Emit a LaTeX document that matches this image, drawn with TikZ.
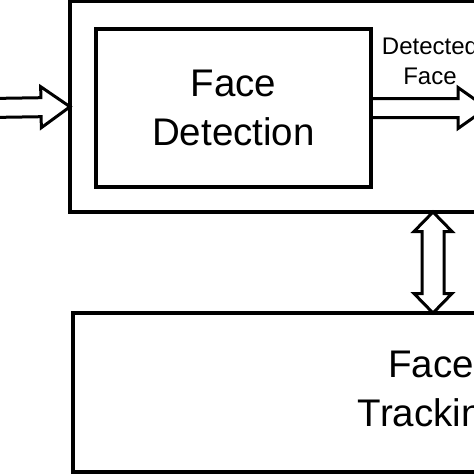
\documentclass[tikz,border=0pt]{standalone}
\usepackage{fontspec}
\setmainfont{Liberation Sans}
\usepackage{tikz}
\usetikzlibrary{calc,positioning}
\tikzset{
	block/.style={draw, line width=3.5pt, inner sep=0pt, outer sep=0pt},
	biglabel/.style={font=\fontsize{38.5}{49}\selectfont, align=center},
	smalllabel/.style={font=\fontsize{24}{30}\selectfont, align=center},
	hollow/.style={draw, line width=3pt, miter limit=20}
}
% open block arrow from (#1) to tip (#2): shaft half width, head half width, head length
\def\hollowarrow(#1)(#2)#3#4#5{\path ($(#2)!#5!(#1)$) coordinate (hb);
	\draw[hollow] ($(#1)!#3!90:(#2)$) -- ($(hb)!#3!90:(#2)$) -- ($(hb)!#4!90:(#2)$) -- (#2) -- ($(hb)!#4!-90:(#2)$) -- ($(hb)!#3!-90:(#2)$) -- ($(#1)!#3!-90:(#2)$);}
% open block arrow with a head at both ends
\def\hollowdouble(#1)(#2)#3#4#5{\path ($(#1)!#5!(#2)$) coordinate (ha) ($(#2)!#5!(#1)$) coordinate (hb);
	\draw[hollow] (#1) -- ($(ha)!#4!-90:(#1)$) -- ($(ha)!#3!-90:(#1)$) -- ($(hb)!#3!90:(#2)$) -- ($(hb)!#4!90:(#2)$) -- (#2) -- ($(hb)!#4!-90:(#2)$) -- ($(hb)!#3!-90:(#2)$) -- ($(ha)!#3!90:(#1)$) -- ($(ha)!#4!90:(#1)$) -- cycle;}
\begin{document}
\begin{tikzpicture}[x=1pt, y=-1pt]
			%%%%% START %%%%%
			\useasboundingbox (0,0) rectangle (474,474);
			\clip (0,0) rectangle (474,474);
			
			\node[block, anchor=north west, minimum width=460pt, minimum height=210.5pt] (outer) at (70,1.5) {};
			\node[block, biglabel, anchor=north west, minimum width=275pt, minimum height=158pt] (detect) at (96,29) {Face\\Detection};
			\node[block, biglabel, anchor=north west, minimum width=716pt, minimum height=159pt] (track) at (73,313) {Face\\Tracking};
			
			\coordinate (input) at (-10,108);
			\coordinate (output) at (487,108);
			\coordinate (link) at (433,0);
			
			\hollowarrow(input)(outer.west){9.5pt}{20.5pt}{29pt}
			\hollowarrow(detect.east)(output){9.5pt}{20.5pt}{29pt}
			\hollowdouble(outer.south -| link)(track.north -| link){11pt}{19pt}{19.5pt}
			
			\node[smalllabel] (detlabel) at (430,60.5) {Detected\\Face};
			%%%%% END %%%%%
\end{tikzpicture}
\end{document}
